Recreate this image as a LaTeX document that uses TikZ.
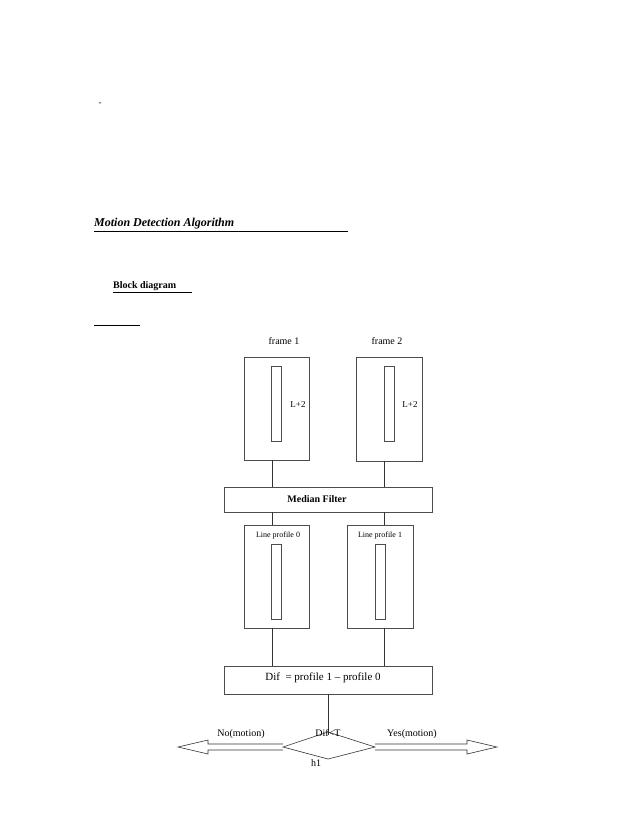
\documentclass[tikz,border=0pt]{standalone}
\usepackage{fontspec}
\setmainfont{Liberation Serif}
\begin{document}
\begin{tikzpicture}[x=1pt,y=-1pt,
  box/.style={draw=black!70,line width=0.6pt},
  lnk/.style={draw=black!80,line width=0.6pt},
  sm/.style={font=\fontsize{9}{10}\selectfont,inner sep=0pt}]
\useasboundingbox (0,0) rectangle (638,826);
\node[inner sep=0pt,font=\small] (dash) at (100,104) {-};
\node[inner sep=0pt,anchor=west,font=\fontsize{12}{14}\selectfont\bfseries\itshape] (title) at (94,224) {Motion Detection Algorithm};
\draw (94,231) -- (348,231);
\node[inner sep=0pt,anchor=west,font=\fontsize{10}{12}\selectfont\bfseries] (bd) at (113,286) {Block diagram};
\draw (113,292) -- (192,292);
\draw (94,325) -- (140,325);
% frames
\node[sm,font=\fontsize{10}{12}\selectfont] (f1t) at (284,341) {frame 1};
\node[sm,font=\fontsize{10}{12}\selectfont] (f2t) at (387,341) {frame 2};
\draw[box] (244,357) rectangle (309,460) coordinate (f1);
\draw[box] (271,366) rectangle (281,441);
\node[sm] (l1) at (298,405) {L+2};
\draw[box] (356,357) rectangle (422,461);
\draw[box] (384,366) rectangle (394,441);
\node[sm] (l2) at (410,405) {L+2};
% median
\draw[box] (224,487) rectangle (432,512);
\node[inner sep=0pt,font=\fontsize{10}{12}\selectfont\bfseries] (mf) at (317,499) {Median Filter};
\draw[lnk] (272,460) -- (272,487) (272,512) -- (272,525);
\draw[lnk] (384,461) -- (384,487) (384,512) -- (384,525);
% profiles
\draw[box] (244,525) rectangle (309,628);
\draw[box] (271,544) rectangle (281,619);
\node[sm,font=\fontsize{8}{10}\selectfont] (p0) at (278,536) {Line profile 0};
\draw[box] (347,525) rectangle (413,628);
\draw[box] (375,544) rectangle (385,619);
\node[sm,font=\fontsize{8}{10}\selectfont] (p1) at (380,536) {Line profile 1};
\draw[lnk] (272,628) -- (272,666);
\draw[lnk] (384,628) -- (384,666);
% dif
\draw[box] (224,666) rectangle (432,694);
\node[inner sep=0pt,font=\fontsize{11}{13}\selectfont] (dif) at (323,678) {Dif\ \ = profile 1 -- profile 0};
\draw[lnk] (328,694) -- (328,735);
% diamond
\draw[lnk] (283,747) -- (328,732) -- (375,747) -- (328,759) -- cycle;
\node[inner sep=0pt,font=\fontsize{10}{12}\selectfont] (dt) at (328,733) {Dif<T};
\node[inner sep=0pt,font=\fontsize{10}{12}\selectfont] (h1) at (316,763) {h1};
% arrows
\draw[lnk] (283,744) -- (208,744) -- (208,740) -- (178,747) -- (208,754) -- (208,750) -- (283,750);
\draw[lnk] (375,744) -- (467,744) -- (467,740) -- (497,747) -- (467,754) -- (467,750) -- (375,750);
\node[inner sep=0pt,font=\fontsize{10}{12}\selectfont] (no) at (241,734) {No(motion)};
\node[inner sep=0pt,font=\fontsize{10}{12}\selectfont] (yes) at (412,734) {Yes(motion)};
\end{tikzpicture}
\end{document}
